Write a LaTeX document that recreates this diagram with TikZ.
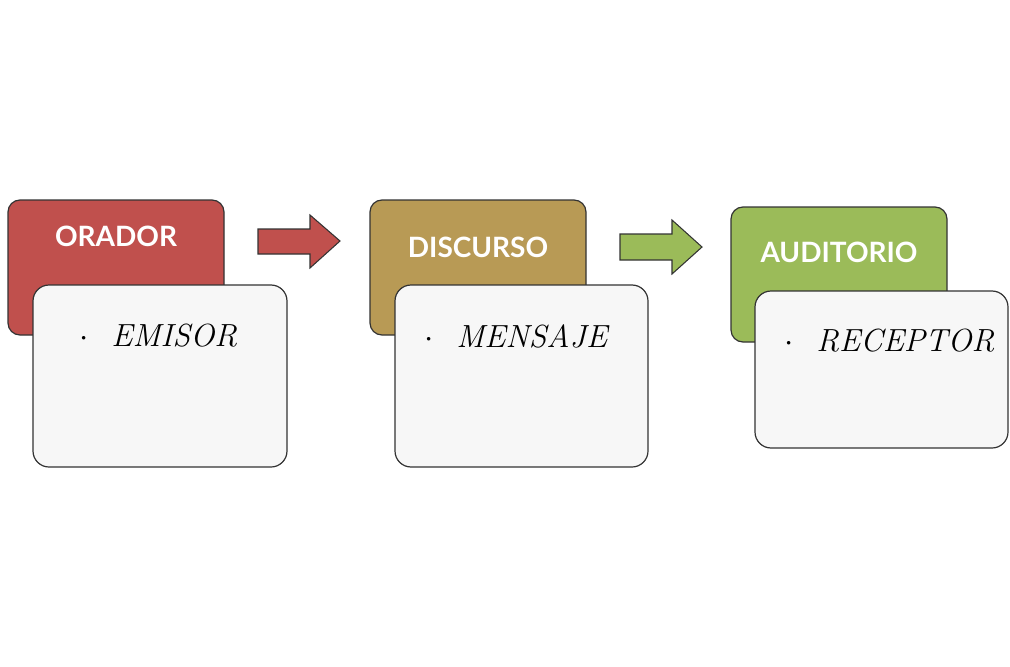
\documentclass[tikz,border=0pt]{standalone}
\usepackage{fontspec}
\setsansfont{Lato}
\usetikzlibrary{shapes.arrows}
\definecolor{cred}{HTML}{C0504D}
\definecolor{ctan}{HTML}{B89A55}
\definecolor{cgreen}{HTML}{9BBB59}
\begin{document}
\begin{tikzpicture}[x=0.75pt,y=-0.75pt,
  head/.style={draw=black!80,line width=0.9pt,rounded corners=9pt,inner sep=0pt},
  body/.style={draw=black!80,fill=white!97!black,line width=0.9pt,rounded corners=12pt},
  htext/.style={text=white,font=\sffamily\bfseries\fontsize{21}{24}\selectfont},
  btext/.style={font=\itshape\fontsize{24}{28}\selectfont},
  arr/.style={draw=black!80,line width=0.8pt}]
\useasboundingbox (0,0) rectangle (1010,667);
% headers
\draw[head,fill=cred] (8,200) rectangle (224,335);
\node[htext] (h1) at (116,236) {ORADOR};
\draw[head,fill=ctan] (370,200) rectangle (586,335);
\node[htext] (h2) at (478,247) {DISCURSO};
\draw[head,fill=cgreen] (731,207) rectangle (947,342);
\node[htext] (h3) at (839,252) {AUDITORIO};
% bodies
\draw[body] (33,285) rectangle (287,467);
\node[btext,anchor=west] (b1) at (75,336) {$\cdot$\ \ EMISOR};
\draw[body] (395,285) rectangle (648,467);
\node[btext,anchor=west] (b2) at (420,336) {$\cdot$\ \ MENSAJE};
\draw[body] (755,291) rectangle (1008,448);
\node[btext,anchor=west] (b3) at (780,341) {$\cdot$\ \ RECEPTOR};
% arrows
\draw[arr,fill=cred] (258,229) -- (310,229) -- (310,215) -- (340,241) -- (310,268) -- (310,254) -- (258,254) -- cycle;
\draw[arr,fill=cgreen] (620,234) -- (672,234) -- (672,220) -- (702,247) -- (672,274) -- (672,260) -- (620,260) -- cycle;
\end{tikzpicture}
\end{document}
